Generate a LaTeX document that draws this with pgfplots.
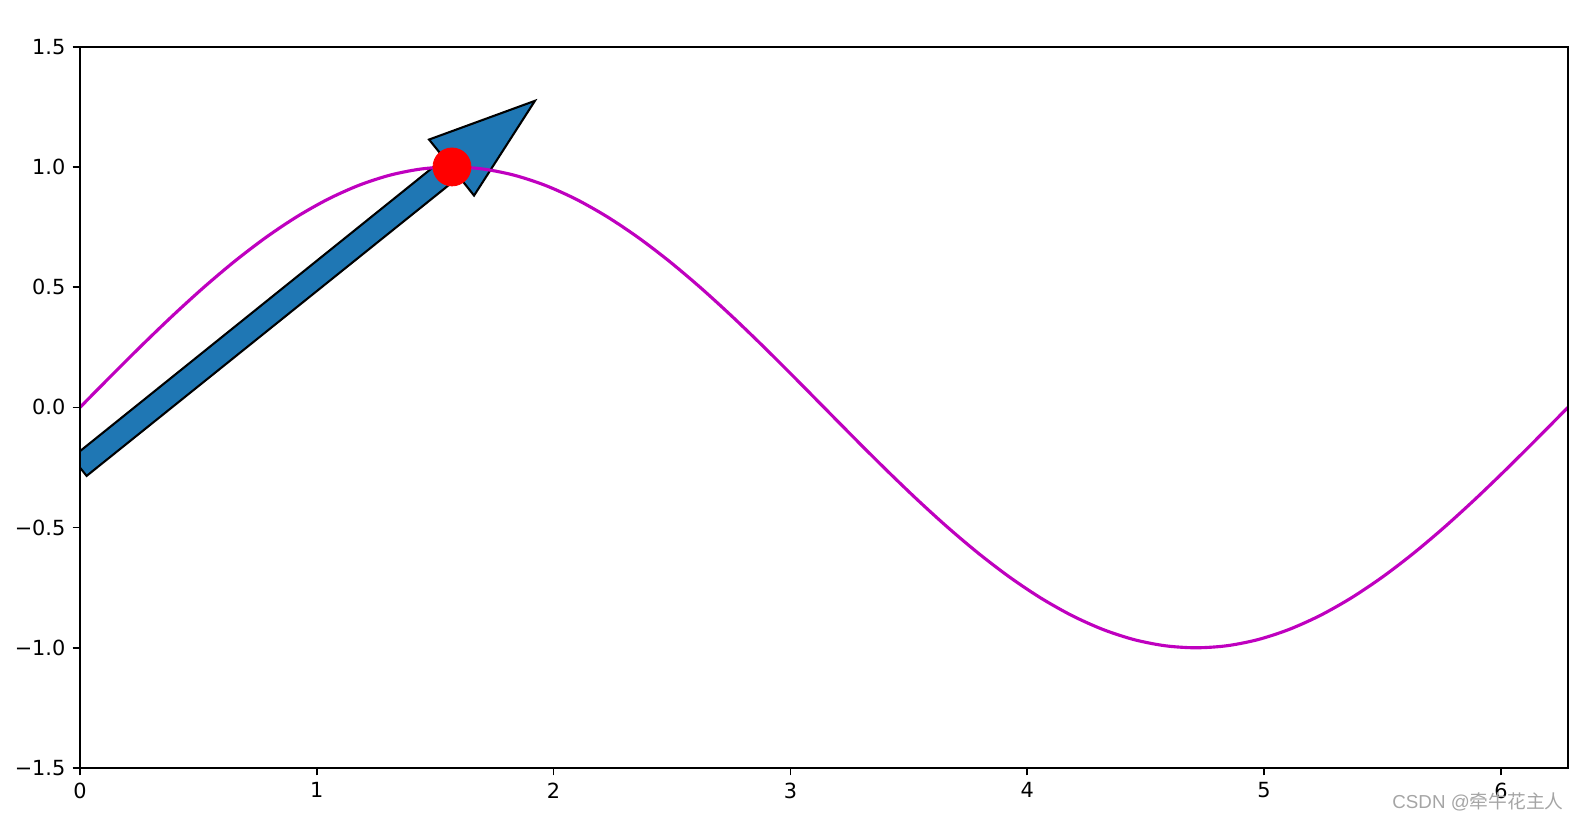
\documentclass[border=0pt]{standalone}
\usepackage{pgfplots}
\pgfplotsset{compat=1.18}
\usepackage{fontspec}
\setmainfont{DejaVu Sans}
\newfontfamily\cjk{Noto Sans CJK SC}
\newfontfamily\wmfont{Liberation Sans}
\definecolor{arrowblue}{RGB}{31,119,180}
\definecolor{sinemag}{RGB}{191,0,191}
\definecolor{wmgray}{RGB}{165,165,165}

\begin{document}
\begin{tikzpicture}
	% whole page: 1582 x 820 px at 0.48pt per px
	\useasboundingbox (-38.4pt,-24.96pt) rectangle (720.96pt,368.64pt);
	\begin{axis}[
		at={(0,0)}, anchor=south west,
		scale only axis,
		width=714.2pt, height=346.2pt,
		xmin=0, xmax=6.2832,
		ymin=-1.5, ymax=1.5,
		xtick={0,1,2,3,4,5,6},
		ytick={-1.5,-1,-0.5,0,0.5,1,1.5},
		yticklabels={−1.5,−1.0,−0.5,0.0,0.5,1.0,1.5},
		tick align=outside,
		major tick length=3.5pt,
		tick style={line width=0.8pt, black},
		axis line style={line width=0.8pt},
		xtick pos=bottom, ytick pos=left,
		/pgf/number format/assume math mode=true,
		tick label style={font=\fontsize{10}{12}\selectfont},
		axis on top,
		]
		
		% flecha (poligono del FancyArrow)
		\addplot[fill=arrowblue, draw=black, line width=1pt] coordinates {
			(-0.034,-0.209)
			(1.538,1.036)
			(1.474,1.114)
			(1.921,1.275)
			(1.664,0.881)
			(1.601,0.959)
			(0.028,-0.285)
		} -- cycle;
		
		% punto maximo
		\addplot[only marks, mark=*, mark size=9.1pt, mark options={fill=red, draw=red}]
		coordinates {(1.5708,1)};
		
		% seno
		\addplot[sinemag, line width=1.5pt, smooth] coordinates {
			(0,0) (0.1309,0.13053) (0.2618,0.25882) (0.3927,0.38268)
			(0.5236,0.5) (0.6545,0.60876) (0.7854,0.70711) (0.9163,0.79335)
			(1.0472,0.86603) (1.1781,0.92388) (1.3090,0.96593) (1.4399,0.99144)
			(1.5708,1) (1.7017,0.99144) (1.8326,0.96593) (1.9635,0.92388)
			(2.0944,0.86603) (2.2253,0.79335) (2.3562,0.70711) (2.4871,0.60876)
			(2.6180,0.5) (2.7489,0.38268) (2.8798,0.25882) (3.0107,0.13053)
			(3.1416,0) (3.2725,-0.13053) (3.4034,-0.25882) (3.5343,-0.38268)
			(3.6652,-0.5) (3.7961,-0.60876) (3.9270,-0.70711) (4.0579,-0.79335)
			(4.1888,-0.86603) (4.3197,-0.92388) (4.4506,-0.96593) (4.5815,-0.99144)
			(4.7124,-1) (4.8433,-0.99144) (4.9742,-0.96593) (5.1051,-0.92388)
			(5.2360,-0.86603) (5.3669,-0.79335) (5.4978,-0.70711) (5.6287,-0.60876)
			(5.7596,-0.5) (5.8905,-0.38268) (6.0214,-0.25882) (6.1523,-0.13053)
			(6.2832,0)
		};
	\end{axis}
	% marca de agua
	\node[anchor=east, inner sep=0pt, text=wmgray, font=\fontsize{9}{11}\selectfont]
	at (712.3pt,-16.2pt) {\wmfont CSDN @{\cjk 牵牛花主人}};
\end{tikzpicture}
\end{document}
